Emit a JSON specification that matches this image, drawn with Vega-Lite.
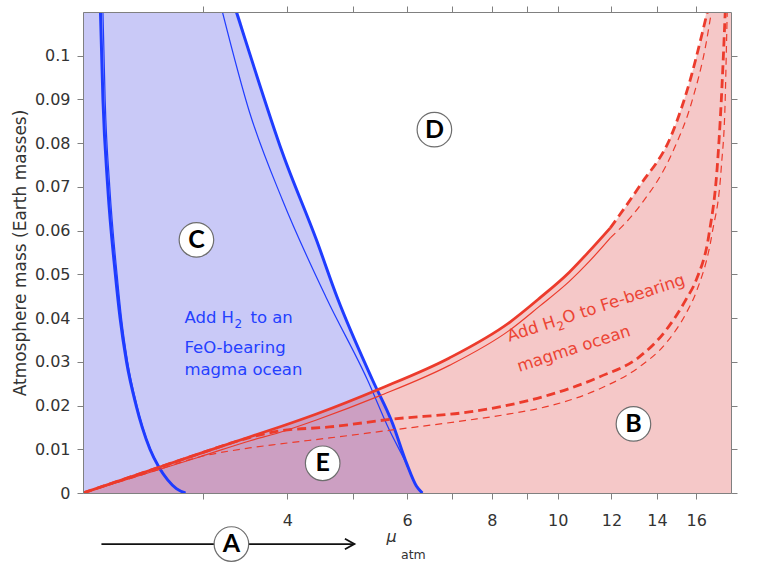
{
  "$schema": "https://vega.github.io/schema/vega-lite/v6.json",
  "width": 648,
  "height": 481,
  "autosize": {"type": "none"},
  "padding": {"left": 83, "top": 12, "right": 37, "bottom": 86},
  "background": "white",
  "config": {"view": {"stroke": null}, "font": "DejaVu Sans"},
  "resolve": {"axis": {"x": "independent", "y": "independent"}},
  "datasets": {
    "blueFill": [
      {"mu": 2, "m": 0.11}, {"mu": 3.365, "m": 0.11}, {"mu": 3.516, "m": 0.1007},
      {"mu": 3.933, "m": 0.0778}, {"mu": 4.413, "m": 0.0579}, {"mu": 4.739, "m": 0.0446},
      {"mu": 5.336, "m": 0.0259}, {"mu": 5.71, "m": 0.016}, {"mu": 5.988, "m": 0.0069},
      {"mu": 6.194, "m": 0.0016}, {"mu": 6.321, "m": 0}
    ],
    "redFill": [
      {"mu": 2, "m": 0}, {"mu": 2.506, "m": 0.00515}, {"mu": 2.968, "m": 0.00899},
      {"mu": 3.516, "m": 0.01281}, {"mu": 3.893, "m": 0.0151}, {"mu": 4.413, "m": 0.01808},
      {"mu": 5.464, "m": 0.0238}, {"mu": 6.927, "m": 0.03089}, {"mu": 8.49, "m": 0.03899},
      {"mu": 9.398, "m": 0.04451}, {"mu": 10.404, "m": 0.0505}, {"mu": 11.134, "m": 0.05531},
      {"mu": 11.956, "m": 0.06064}, {"mu": 13.19, "m": 0.0701}, {"mu": 14.75, "m": 0.0823},
      {"mu": 15.63, "m": 0.0938}, {"mu": 16.33, "m": 0.1052}, {"mu": 16.61, "m": 0.11},
      {"mu": 18, "m": 0.11}
    ],
    "curves": [
      {"c": "bLk", "mu": 2.122, "m": 0.11}, {"c": "bLk", "mu": 2.14, "m": 0.09}, {"c": "bLk", "mu": 2.175, "m": 0.07},
      {"c": "bLk", "mu": 2.232, "m": 0.05}, {"c": "bLk", "mu": 2.268, "m": 0.04}, {"c": "bLk", "mu": 2.318, "m": 0.03},
      {"c": "bLk", "mu": 2.395, "m": 0.02}, {"c": "bLk", "mu": 2.445, "m": 0.015}, {"c": "bLk", "mu": 2.51, "m": 0.01},
      {"c": "bLk", "mu": 2.585, "m": 0.006}, {"c": "bLk", "mu": 2.665, "m": 0.003}, {"c": "bLk", "mu": 2.745, "m": 0.001},
      {"c": "bLk", "mu": 2.83, "m": 0},

      {"c": "bLt", "mu": 2.14, "m": 0.11}, {"c": "bLt", "mu": 2.156, "m": 0.09}, {"c": "bLt", "mu": 2.19, "m": 0.07},
      {"c": "bLt", "mu": 2.245, "m": 0.05}, {"c": "bLt", "mu": 2.279, "m": 0.04}, {"c": "bLt", "mu": 2.327, "m": 0.03},
      {"c": "bLt", "mu": 2.401, "m": 0.02}, {"c": "bLt", "mu": 2.45, "m": 0.015}, {"c": "bLt", "mu": 2.514, "m": 0.01},
      {"c": "bLt", "mu": 2.588, "m": 0.006}, {"c": "bLt", "mu": 2.667, "m": 0.003}, {"c": "bLt", "mu": 2.747, "m": 0.001},
      {"c": "bLt", "mu": 2.832, "m": 0},

      {"c": "bRk", "mu": 3.365, "m": 0.11}, {"c": "bRk", "mu": 3.516, "m": 0.1007}, {"c": "bRk", "mu": 3.933, "m": 0.0778},
      {"c": "bRk", "mu": 4.413, "m": 0.0579}, {"c": "bRk", "mu": 4.739, "m": 0.0446}, {"c": "bRk", "mu": 5.336, "m": 0.0259},
      {"c": "bRk", "mu": 5.71, "m": 0.016}, {"c": "bRk", "mu": 5.988, "m": 0.0069}, {"c": "bRk", "mu": 6.194, "m": 0.0016},
      {"c": "bRk", "mu": 6.321, "m": 0},

      {"c": "bRt", "mu": 3.209, "m": 0.11}, {"c": "bRt", "mu": 3.516, "m": 0.0872}, {"c": "bRt", "mu": 3.933, "m": 0.067},
      {"c": "bRt", "mu": 4.565, "m": 0.0446}, {"c": "bRt", "mu": 5.246, "m": 0.0259}, {"c": "bRt", "mu": 5.652, "m": 0.0144},
      {"c": "bRt", "mu": 5.947, "m": 0.0076}, {"c": "bRt", "mu": 6.194, "m": 0.0016}, {"c": "bRt", "mu": 6.321, "m": 0},

      {"c": "rUk", "mu": 2, "m": 0}, {"c": "rUk", "mu": 2.506, "m": 0.00515}, {"c": "rUk", "mu": 2.968, "m": 0.00899},
      {"c": "rUk", "mu": 3.516, "m": 0.01281}, {"c": "rUk", "mu": 3.893, "m": 0.0151}, {"c": "rUk", "mu": 4.413, "m": 0.01808},
      {"c": "rUk", "mu": 5.464, "m": 0.0238}, {"c": "rUk", "mu": 6.927, "m": 0.03089}, {"c": "rUk", "mu": 8.49, "m": 0.03899},
      {"c": "rUk", "mu": 9.398, "m": 0.04451}, {"c": "rUk", "mu": 10.404, "m": 0.0505}, {"c": "rUk", "mu": 11.134, "m": 0.05531},
      {"c": "rUk", "mu": 11.956, "m": 0.06064},

      {"c": "rUkd", "mu": 11.956, "m": 0.06064}, {"c": "rUkd", "mu": 13.19, "m": 0.0701}, {"c": "rUkd", "mu": 14.75, "m": 0.0823},
      {"c": "rUkd", "mu": 15.63, "m": 0.0938}, {"c": "rUkd", "mu": 16.33, "m": 0.1052}, {"c": "rUkd", "mu": 16.61, "m": 0.11},

      {"c": "rUt", "mu": 2, "m": 0}, {"c": "rUt", "mu": 2.506, "m": 0.00469}, {"c": "rUt", "mu": 2.968, "m": 0.00824},
      {"c": "rUt", "mu": 3.516, "m": 0.0119}, {"c": "rUt", "mu": 3.893, "m": 0.01384}, {"c": "rUt", "mu": 4.413, "m": 0.0167},
      {"c": "rUt", "mu": 5.464, "m": 0.0222}, {"c": "rUt", "mu": 6.927, "m": 0.02918}, {"c": "rUt", "mu": 8.49, "m": 0.03719},
      {"c": "rUt", "mu": 9.398, "m": 0.04268}, {"c": "rUt", "mu": 10.404, "m": 0.0484}, {"c": "rUt", "mu": 11.134, "m": 0.05297},
      {"c": "rUt", "mu": 11.956, "m": 0.05835},

      {"c": "rUtd", "mu": 11.956, "m": 0.05835}, {"c": "rUtd", "mu": 13.19, "m": 0.0655}, {"c": "rUtd", "mu": 14.75, "m": 0.0778},
      {"c": "rUtd", "mu": 15.79, "m": 0.0899}, {"c": "rUtd", "mu": 16.55, "m": 0.103}, {"c": "rUtd", "mu": 16.84, "m": 0.11},

      {"c": "rLk", "mu": 2, "m": 0}, {"c": "rLk", "mu": 2.506, "m": 0.00515}, {"c": "rLk", "mu": 2.968, "m": 0.00899},
      {"c": "rLk", "mu": 3.399, "m": 0.01201}, {"c": "rLk", "mu": 3.893, "m": 0.01419}, {"c": "rLk", "mu": 4.612, "m": 0.0151},
      {"c": "rLk", "mu": 5.71, "m": 0.0169}, {"c": "rLk", "mu": 7.413, "m": 0.01854}, {"c": "rLk", "mu": 8.49, "m": 0.02014},
      {"c": "rLk", "mu": 9.722, "m": 0.02243}, {"c": "rLk", "mu": 11.518, "m": 0.02654}, {"c": "rLk", "mu": 13.19, "m": 0.03112},
      {"c": "rLk", "mu": 14.45, "m": 0.0373}, {"c": "rLk", "mu": 15.47, "m": 0.04439}, {"c": "rLk", "mu": 16.0, "m": 0.04874},
      {"c": "rLk", "mu": 16.72, "m": 0.0595}, {"c": "rLk", "mu": 17.18, "m": 0.0746}, {"c": "rLk", "mu": 17.42, "m": 0.09},
      {"c": "rLk", "mu": 17.6, "m": 0.1053}, {"c": "rLk", "mu": 17.65, "m": 0.11},

      {"c": "rLt", "mu": 2, "m": 0}, {"c": "rLt", "mu": 2.506, "m": 0.00469}, {"c": "rLt", "mu": 2.968, "m": 0.00824},
      {"c": "rLt", "mu": 3.516, "m": 0.0103}, {"c": "rLt", "mu": 3.893, "m": 0.01121}, {"c": "rLt", "mu": 4.612, "m": 0.01259},
      {"c": "rLt", "mu": 5.71, "m": 0.01442}, {"c": "rLt", "mu": 7.413, "m": 0.0167}, {"c": "rLt", "mu": 8.49, "m": 0.01808},
      {"c": "rLt", "mu": 9.722, "m": 0.01991}, {"c": "rLt", "mu": 11.518, "m": 0.0238}, {"c": "rLt", "mu": 13.19, "m": 0.02883},
      {"c": "rLt", "mu": 14.45, "m": 0.03432}, {"c": "rLt", "mu": 15.47, "m": 0.04119}, {"c": "rLt", "mu": 16.0, "m": 0.046},
      {"c": "rLt", "mu": 16.89, "m": 0.0595}, {"c": "rLt", "mu": 17.42, "m": 0.0746}, {"c": "rLt", "mu": 17.65, "m": 0.09},
      {"c": "rLt", "mu": 17.72, "m": 0.1014}, {"c": "rLt", "mu": 17.77, "m": 0.11}
    ],
    "regions": [
      {"mu": 2.938, "m": 0.0579, "t": "C"},
      {"mu": 6.584, "m": 0.0831, "t": "D"},
      {"mu": 4.508, "m": 0.0068, "t": "E"},
      {"mu": 12.93, "m": 0.0158, "t": "B"},
      {"mu": 3.308, "m": -0.01167, "t": "A"}
    ],
    "arrow": [
      {"mu": 2.129, "m": -0.01167},
      {"mu": 5.02, "m": -0.01167}
    ]
  },
  "encoding": {
    "x": {"field": "mu", "type": "quantitative", "scale": {"type": "log", "domain": [2, 18], "nice": false}, "axis": null},
    "y": {"field": "m", "type": "quantitative", "scale": {"domain": [0, 0.11], "nice": false, "zero": false}, "axis": null}
  },
  "layer": [
    {
      "data": {"name": "blueFill"},
      "mark": {"type": "area", "color": "#c9c9f7", "opacity": 1, "interpolate": "monotone", "clip": true},
      "encoding": {
        "x": {
          "field": "mu", "type": "quantitative",
          "scale": {"type": "log", "domain": [2, 18], "nice": false},
          "axis": {
            "orient": "bottom", "values": [3, 4, 5, 6, 7, 8, 9, 10, 12, 14, 16],
            "labelExpr": "indexof([4, 6, 8, 10, 12, 14, 16], datum.value) >= 0 ? format(datum.value, 'd') : ''",
            "title": null, "grid": false, "zindex": 1,
            "tickSize": 6, "labelPadding": 13, "labelFlush": false, "labelOverlap": false,
            "domainColor": "#808080", "tickColor": "#808080",
            "labelColor": "#333333", "labelFont": "DejaVu Sans", "labelFontSize": 16
          }
        },
        "y": {
          "field": "m", "type": "quantitative",
          "scale": {"domain": [0, 0.11], "nice": false, "zero": false},
          "axis": {
            "orient": "left", "values": [0, 0.01, 0.02, 0.03, 0.04, 0.05, 0.06, 0.07, 0.08, 0.09, 0.1],
            "format": ".2~f", "grid": false, "zindex": 1,
            "tickSize": 6, "labelPadding": 7, "labelFlush": false, "labelOverlap": false,
            "domainColor": "#808080", "tickColor": "#808080",
            "labelColor": "#333333", "labelFont": "DejaVu Sans", "labelFontSize": 16,
            "title": "Atmosphere mass (Earth masses)", "titleFont": "DejaVu Sans", "titleFontSize": 17,
            "titleFontWeight": "normal", "titleColor": "#333333", "titlePadding": 5
          }
        },
        "y2": {"datum": 0}
      }
    },
    {
      "data": {"name": "redFill"},
      "mark": {"type": "area", "color": "#d62222", "opacity": 0.25, "interpolate": "monotone", "clip": true},
      "encoding": {
        "x": {
          "field": "mu", "type": "quantitative",
          "scale": {"type": "log", "domain": [2, 18], "nice": false},
          "axis": {
            "orient": "top", "values": [3, 4, 5, 6, 7, 8, 9, 10, 12, 14, 16], "labels": false,
            "title": null, "grid": false, "zindex": 1, "tickSize": 6,
            "domainColor": "#808080", "tickColor": "#808080"
          }
        },
        "y": {
          "field": "m", "type": "quantitative",
          "scale": {"domain": [0, 0.11], "nice": false, "zero": false},
          "axis": {
            "orient": "right", "values": [0, 0.01, 0.02, 0.03, 0.04, 0.05, 0.06, 0.07, 0.08, 0.09, 0.1], "labels": false,
            "title": null, "grid": false, "zindex": 1, "tickSize": 6,
            "domainColor": "#808080", "tickColor": "#808080"
          }
        },
        "y2": {"datum": 0}
      }
    },
    {
      "data": {"name": "curves"},
      "transform": [{"filter": "datum.c == 'bLk' || datum.c == 'bRk'"}],
      "mark": {"type": "line", "color": "#1f3cff", "strokeWidth": 3, "interpolate": "monotone", "clip": true},
      "encoding": {"detail": {"field": "c"}}
    },
    {
      "data": {"name": "curves"},
      "transform": [{"filter": "datum.c == 'bLt' || datum.c == 'bRt'"}],
      "mark": {"type": "line", "color": "#1f3cff", "strokeWidth": 1.2, "interpolate": "monotone", "clip": true},
      "encoding": {"detail": {"field": "c"}}
    },
    {
      "data": {"name": "curves"},
      "transform": [{"filter": "datum.c == 'rUk'"}],
      "mark": {"type": "line", "color": "#ec3b2c", "strokeWidth": 2.8, "interpolate": "monotone", "clip": true},
      "encoding": {"detail": {"field": "c"}}
    },
    {
      "data": {"name": "curves"},
      "transform": [{"filter": "datum.c == 'rUt'"}],
      "mark": {"type": "line", "color": "#ec3b2c", "strokeWidth": 1.2, "interpolate": "monotone", "clip": true},
      "encoding": {"detail": {"field": "c"}}
    },
    {
      "data": {"name": "curves"},
      "transform": [{"filter": "datum.c == 'rUkd' || datum.c == 'rLk'"}],
      "mark": {"type": "line", "color": "#ec3b2c", "strokeWidth": 2.8, "strokeDash": [9, 5], "interpolate": "monotone", "clip": true},
      "encoding": {"detail": {"field": "c"}}
    },
    {
      "data": {"name": "curves"},
      "transform": [{"filter": "datum.c == 'rUtd' || datum.c == 'rLt'"}],
      "mark": {"type": "line", "color": "#ec3b2c", "strokeWidth": 1.2, "strokeDash": [7, 5], "interpolate": "monotone", "clip": true},
      "encoding": {"detail": {"field": "c"}}
    },
    {
      "data": {"values": [
        {"mu": 2.821, "m": 0.0389, "t": "Add H"},
        {"mu": 2.821, "m": 0.032, "t": "FeO-bearing"},
        {"mu": 2.821, "m": 0.027, "t": "magma ocean"}
      ]},
      "mark": {"type": "text", "align": "left", "baseline": "alphabetic", "font": "DejaVu Sans", "fontSize": 16.5, "color": "#2440ff"},
      "encoding": {"text": {"field": "t"}}
    },
    {
      "data": {"values": [{"mu": 2.821, "m": 0.0389, "t": "2"}]},
      "mark": {"type": "text", "align": "left", "baseline": "alphabetic", "font": "DejaVu Sans", "fontSize": 12, "dx": 50, "dy": 5, "color": "#2440ff"},
      "encoding": {"text": {"field": "t"}}
    },
    {
      "data": {"values": [{"mu": 2.821, "m": 0.0389, "t": "to an"}]},
      "mark": {"type": "text", "align": "left", "baseline": "alphabetic", "font": "DejaVu Sans", "fontSize": 16.5, "dx": 66, "color": "#2440ff"},
      "encoding": {"text": {"field": "t"}}
    },
    {
      "data": {"values": [
        {"mu": 8.49, "m": 0.0346, "t": "Add H"},
        {"mu": 8.78, "m": 0.0277, "t": "magma ocean"}
      ]},
      "mark": {"type": "text", "align": "left", "baseline": "alphabetic", "font": "DejaVu Sans", "fontSize": 16.5, "angle": 342, "color": "#ec4434"},
      "encoding": {"text": {"field": "t"}}
    },
    {
      "data": {"values": [{"mu": 8.49, "m": 0.0346, "t": "2"}]},
      "mark": {"type": "text", "align": "left", "baseline": "alphabetic", "font": "DejaVu Sans", "fontSize": 12, "angle": 342, "dx": 50, "dy": 5, "color": "#ec4434"},
      "encoding": {"text": {"field": "t"}}
    },
    {
      "data": {"values": [{"mu": 8.49, "m": 0.0346, "t": "O to Fe-bearing"}]},
      "mark": {"type": "text", "align": "left", "baseline": "alphabetic", "font": "DejaVu Sans", "fontSize": 16.5, "angle": 342, "dx": 58, "color": "#ec4434"},
      "encoding": {"text": {"field": "t"}}
    },
    {
      "data": {"name": "arrow"},
      "mark": {"type": "line", "color": "#111111", "strokeWidth": 1.8},
      "encoding": {}
    },
    {
      "data": {"values": [{"mu": 5.02, "m": -0.01167}]},
      "mark": {"type": "point", "shape": "M-1,-0.55L0,0L-1,0.55", "size": 361, "filled": false, "stroke": "#111111", "strokeWidth": 1.8, "opacity": 1}
    },
    {
      "data": {"name": "regions"},
      "mark": {"type": "point", "shape": "circle", "size": 1195, "filled": true, "fill": "white", "stroke": "#6e6e6e", "strokeWidth": 1.2, "opacity": 1}
    },
    {
      "data": {"name": "regions"},
      "mark": {"type": "text", "align": "center", "baseline": "middle", "font": "Lato", "fontWeight": "bold", "fontSize": 25, "color": "#000000"},
      "encoding": {"text": {"field": "t"}}
    },
    {
      "data": {"values": [{"mu": 5.595, "m": -0.0113, "t": "μ"}]},
      "mark": {"type": "text", "align": "left", "baseline": "alphabetic", "font": "DejaVu Sans", "fontStyle": "italic", "fontSize": 16, "color": "#333333"},
      "encoding": {"text": {"field": "t"}}
    },
    {
      "data": {"values": [{"mu": 5.88, "m": -0.0152, "t": "atm"}]},
      "mark": {"type": "text", "align": "left", "baseline": "alphabetic", "font": "DejaVu Sans", "fontSize": 12.5, "color": "#333333"},
      "encoding": {"text": {"field": "t"}}
    }
  ]
}
